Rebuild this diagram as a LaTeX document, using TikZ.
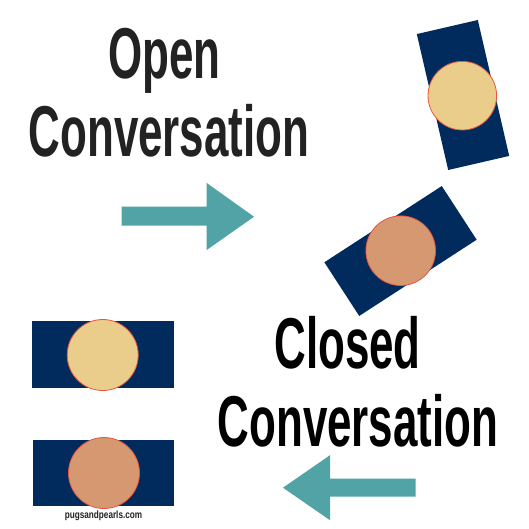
\documentclass[tikz,border=0pt]{standalone}
\usepackage{fontspec}
\newfontfamily\headfont[FakeStretch=0.61]{Liberation Sans}
\newfontfamily\sitefont[FakeStretch=0.78]{Liberation Sans}
\usetikzlibrary{calc}
\usepackage{xcolor}
\definecolor{navy}{RGB}{0,43,92}
\definecolor{arrowteal}{RGB}{82,163,165}
\definecolor{sand}{RGB}{234,205,138}
\definecolor{clay}{RGB}{214,152,112}
\definecolor{rim}{RGB}{232,85,64}
\definecolor{ink}{RGB}{34,34,34}

\begin{document}
\begin{tikzpicture}[x=1pt,y=-1pt,
  card/.style={fill=navy,inner sep=0pt},
  disc/.style={circle,draw=rim,line width=0.8pt,inner sep=0pt},
  title/.style={anchor=base,inner sep=0pt,font=\headfont\bfseries\fontsize{72}{72}\selectfont}]
  \useasboundingbox[fill=white] (0,0) rectangle (529,529);
  % headings
  \node[title,text=ink] (open) at (164.5,79){Open};
  \node[title,text=ink] (openconv) at (169,157){Conversation};
  \node[title,text=black] (closed) at (347.5,368){Closed};
  \node[title,text=black] (closedconv) at (358,446){Conversation};
  % arrows
  \coordinate (righttail) at (121.7,216);
  \coordinate (lefttail) at (415.7,487.7);
  \fill[arrowteal] ($(righttail)+(0,-9.5)$) -- ++(85,0) -- ++(0,-23.5)
    -- ($(righttail)+(132.3,0.7)$) -- ($(righttail)+(85,34)$) -- ++(0,-24.5) -- ++(-85,0) -- cycle;
  \fill[arrowteal] ($(lefttail)+(0,-9)$) -- ++(-85.7,0) -- ++(0,-23.5)
    -- ($(lefttail)+(-132.7,0)$) -- ($(lefttail)+(-85.7,32.5)$) -- ++(0,-23.5) -- ++(85.7,0) -- cycle;
  % tilted cards
  \node[card,minimum width=62.6,minimum height=139.5,rotate=13] (topcard) at (463,95){};
  \node[disc,fill=sand,minimum size=68.6] (topdisc) at (462.3,95.7){};
  \node[card,minimum width=140,minimum height=64,rotate=33] (midcard) at (400.5,251){};
  \node[disc,fill=clay,minimum size=69.6] (middisc) at (400.7,250.7){};
  % flat cards
  \node[card,minimum width=142,minimum height=67] (upcard) at (103,354.5){};
  \node[disc,fill=sand,minimum size=71] (updisc) at (102.7,355){};
  \node[card,minimum width=141,minimum height=66] (lowcard) at (103.5,473){};
  \node[disc,fill=clay,minimum size=71] (lowdisc) at (104,473){};
  \node[anchor=base,inner sep=0pt,text=ink,font=\sitefont\bfseries\fontsize{10.5}{11}\selectfont] (site) at (103.5,518){pugsandpearls.com};
\end{tikzpicture}
\end{document}
